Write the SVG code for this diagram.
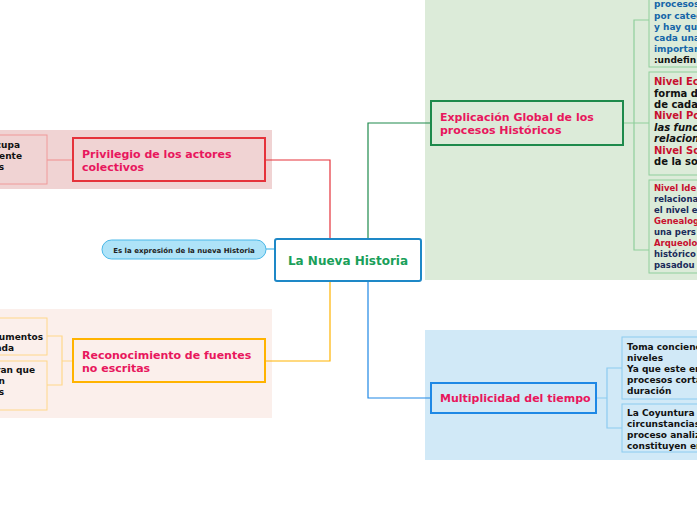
<svg xmlns="http://www.w3.org/2000/svg" width="697" height="520" viewBox="0 0 697 520">
<style>
text{font-family:"DejaVu Sans",Verdana,sans-serif;font-weight:bold}
.main{font-size:11px;fill:#e8175d}
.s{font-size:9px;fill:#111}
.c{fill:none;stroke-width:1.2}
.r{fill:#c8102e}
.b{fill:#1565a8}
.n{fill:#1a2a5a}
</style>
<rect width="697" height="520" fill="#fff"/>
<rect x="0" y="130" width="272" height="59" fill="#f0d3d3"/>
<rect x="0" y="309" width="272" height="109" fill="#fbefeb"/>
<rect x="425" y="0" width="272" height="280" fill="#dcebd9"/>
<rect x="425" y="330" width="272" height="130" fill="#d1e9f7"/>
<g id="connectors" class="c">
<path d="M330,239V160H265" stroke="#e5333b"/>
<path d="M330,281V361H265" stroke="#ffb300"/>
<path d="M368,239V123H431" stroke="#1e8a4c"/>
<path d="M368,281V398H431" stroke="#1e88e5"/>
<path d="M266,249H275" stroke="#4ab8e8"/>
<path d="M47,160H73" stroke="#f09a9a"/>
<path d="M47,336H62V385H47M62,361H73" stroke="#ffd78a"/>
<path d="M623,123H634M649,20H634V250H649M634,123H649" stroke="#8fcf9c"/>
<path d="M596,398H607M622,368H607V428H622" stroke="#8ccbf0"/>
</g>
<g id="center"><rect x="275" y="239" width="146" height="42" rx="2" fill="#fff" stroke="#1e88c7" stroke-width="2"/><text x="348" y="265" text-anchor="middle" font-size="12" fill="#1aa05a">La Nueva Historia</text></g>
<g id="label"><rect x="102" y="240" width="164" height="19" rx="9.5" fill="#aee3f8" stroke="#4ab8e8"/><text x="184" y="252.5" text-anchor="middle" font-size="7" fill="#222">Es la expresión de la nueva Historia</text></g>
<g id="privilegio"><rect x="73" y="138" width="192" height="43" fill="#f0d3d3" stroke="#e5333b" stroke-width="2"/><text class="main" x="82" y="158">Privilegio de los actores</text><text class="main" x="82" y="171">colectivos</text></g>
<g id="privilegio-sub"><rect x="-5" y="135" width="52" height="49" fill="#f0d3d3" stroke="#f09a9a"/><text class="s" text-anchor="end"><tspan x="20" y="148">cupa</tspan><tspan x="22" y="159">ente</tspan><tspan x="4" y="170">s</tspan></text></g>
<g id="reconocimiento"><rect x="73" y="339" width="192" height="43" fill="#fbefeb" stroke="#ffb300" stroke-width="2"/><text class="main" x="82" y="359">Reconocimiento de fuentes</text><text class="main" x="82" y="372">no escritas</text></g>
<g id="rec-sub1"><rect x="-5" y="318" width="52" height="37" fill="#fbefeb" stroke="#ffd78a"/><text class="s" text-anchor="end"><tspan x="43" y="340">umentos</tspan><tspan x="14" y="351">ada</tspan></text></g>
<g id="rec-sub2"><rect x="-5" y="361" width="52" height="49" fill="#fbefeb" stroke="#ffd78a"/><text class="s" text-anchor="end"><tspan x="35" y="373">ran que</tspan><tspan x="5" y="384">n</tspan><tspan x="4" y="395">s</tspan></text></g>
<g id="explicacion"><rect x="431" y="101" width="192" height="44" fill="#dcebd9" stroke="#1e8a4c" stroke-width="2"/><text class="main" x="440" y="121">Explicación Global de los</text><text class="main" x="440" y="134">procesos Históricos</text></g>
<g id="exp-sub1"><rect x="649" y="-5" width="55" height="72" fill="#dcebd9" stroke="#8fcf9c"/><text font-size="9"><tspan class="b" x="654" y="7">procesos</tspan><tspan class="b" x="654" y="19">por categ</tspan><tspan class="b" x="654" y="30">y hay qu</tspan><tspan class="b" x="654" y="41">cada una</tspan><tspan class="b" x="654" y="52">importan</tspan><tspan fill="#111" x="654" y="63">:undefin</tspan></text></g>
<g id="exp-sub2"><rect x="649" y="72" width="55" height="103" fill="#dcebd9" stroke="#8fcf9c"/><text font-size="10"><tspan class="r" x="654" y="85">Nivel Ec</tspan><tspan fill="#111" x="654" y="97">forma d</tspan><tspan fill="#111" x="654" y="108">de cada</tspan><tspan class="r" x="654" y="119">Nivel Po</tspan><tspan fill="#111" font-style="italic" x="654" y="131">las func</tspan><tspan fill="#111" font-style="italic" x="654" y="142">relacion</tspan><tspan class="r" x="654" y="154">Nivel So</tspan><tspan fill="#111" x="654" y="165">de la so</tspan></text></g>
<g id="exp-sub3"><rect x="649" y="180" width="55" height="93" fill="#dcebd9" stroke="#8fcf9c"/><text font-size="8.5"><tspan class="r" x="654" y="191">Nivel Ide</tspan><tspan class="n" x="654" y="202">relaciona</tspan><tspan class="n" x="654" y="213">el nivel e</tspan><tspan class="r" x="654" y="224">Genealog</tspan><tspan class="n" x="654" y="235">una pers</tspan><tspan class="r" x="654" y="246">Arqueolo</tspan><tspan class="n" x="654" y="257">histórico</tspan><tspan class="n" x="654" y="268">pasadou</tspan></text></g>
<g id="multiplicidad"><rect x="431" y="383" width="165" height="30" fill="#d1e9f7" stroke="#1e88e5" stroke-width="2"/><text class="main" x="440" y="402">Multiplicidad del tiempo</text></g>
<g id="mul-sub1"><rect x="622" y="337" width="80" height="62" fill="#d1e9f7" stroke="#8ccbf0"/><text class="s"><tspan x="627" y="350">Toma concienc</tspan><tspan x="627" y="361">niveles</tspan><tspan x="627" y="372">Ya que este en</tspan><tspan x="627" y="383">procesos corta</tspan><tspan x="627" y="394">duración</tspan></text></g>
<g id="mul-sub2"><rect x="622" y="404" width="80" height="48" fill="#d1e9f7" stroke="#8ccbf0"/><text class="s"><tspan x="627" y="416">La Coyuntura</tspan><tspan x="627" y="427">circunstancias</tspan><tspan x="627" y="438">proceso analiz</tspan><tspan x="627" y="449">constituyen en</tspan></text></g>
</svg>
